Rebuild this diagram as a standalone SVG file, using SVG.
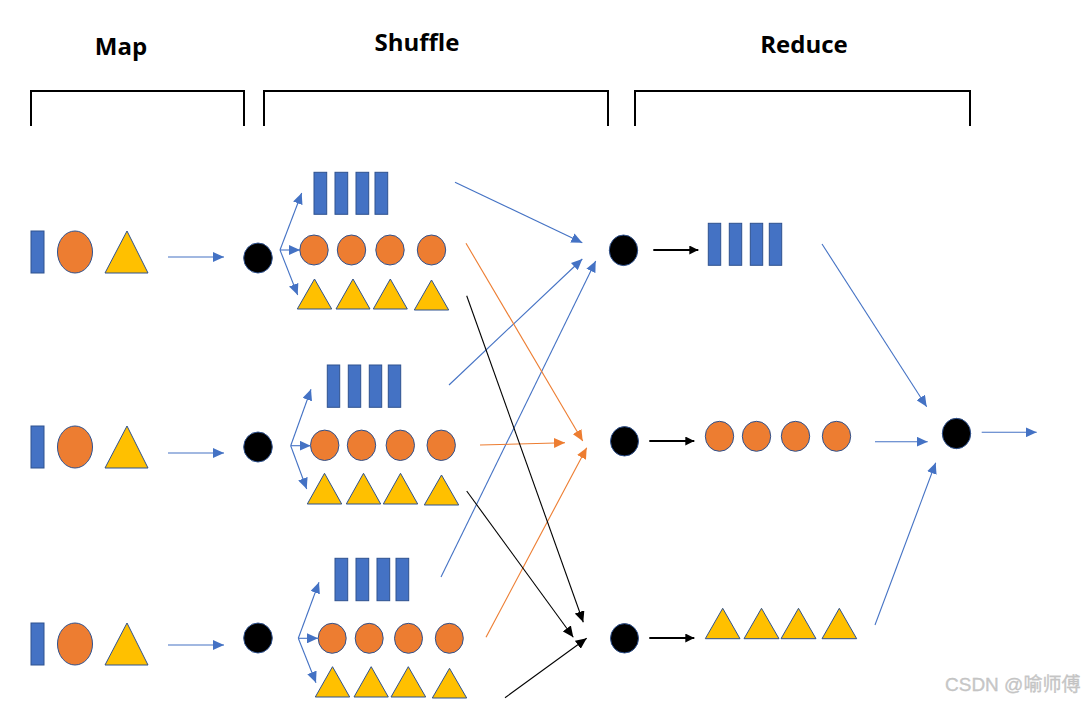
<svg xmlns="http://www.w3.org/2000/svg" width="1087" height="701" viewBox="0 0 1087 701">
<defs>
<style>
.hdr{font-family:"Open Sans","Liberation Sans",Arial,sans-serif;font-weight:bold;font-size:24px;fill:#000;text-anchor:middle}
.br{fill:none;stroke:#000;stroke-width:2}
.bl{fill:#4472C4;stroke:#2F528F;stroke-width:1}
.or{fill:#ED7D31;stroke:#2F528F;stroke-width:1}
.ye{fill:#FFC000;stroke:#2F528F;stroke-width:1}
.dot{fill:#000;stroke:#2F528F;stroke-width:1}
.lb{fill:none;stroke:#4472C4;stroke-width:1.1;marker-end:url(#mb)}
.lo{fill:none;stroke:#ED7D31;stroke-width:1.1;marker-end:url(#mo)}
.lk{fill:none;stroke:#000;stroke-width:1.1;marker-end:url(#mk)}
.lk2{fill:none;stroke:#000;stroke-width:2.2;marker-end:url(#mk2)}
.wm{font-family:"Liberation Sans","Noto Sans CJK SC",sans-serif;font-size:19px;fill:#c8c8c8;stroke:#bcbcbc;stroke-width:0.3}
</style>
<marker id="mb" markerUnits="userSpaceOnUse" markerWidth="12" markerHeight="10" refX="11" refY="5" orient="auto"><path d="M0,0 L11,5 L0,10 z" fill="#4472C4"/></marker>
<marker id="mo" markerUnits="userSpaceOnUse" markerWidth="12" markerHeight="10" refX="11" refY="5" orient="auto"><path d="M0,0 L11,5 L0,10 z" fill="#ED7D31"/></marker>
<marker id="mk" markerUnits="userSpaceOnUse" markerWidth="12" markerHeight="10" refX="11" refY="5" orient="auto"><path d="M0,0 L11,5 L0,10 z" fill="#000"/></marker>
<marker id="mk2" markerUnits="userSpaceOnUse" markerWidth="10" markerHeight="10" refX="9" refY="4.5" orient="auto"><path d="M0,0 L9,4.5 L0,9 z" fill="#000"/></marker>
</defs>
<rect width="1087" height="701" fill="#fff"/>

<g id="headers">
<text class="hdr" x="121" y="55">Map</text>
<text class="hdr" x="417" y="51">Shuffle</text>
<text class="hdr" x="804" y="53">Reduce</text>
<polyline class="br" points="31,126 31,91 244,91 244,126"/>
<polyline class="br" points="264,126 264,91 608,91 608,126"/>
<polyline class="br" points="635,126 635,91 970,91 970,126"/>
</g>

<g id="map1">
<rect class="bl" x="31" y="231" width="13" height="42"/>
<ellipse class="or" cx="75" cy="252" rx="17.5" ry="21"/>
<polygon class="ye" points="105,273 127,231 148,273"/>
</g>
<g id="map2">
<rect class="bl" x="31" y="426" width="13" height="42"/>
<ellipse class="or" cx="75" cy="447" rx="17.5" ry="21"/>
<polygon class="ye" points="105,468 127,426 148,468"/>
</g>
<g id="map3">
<rect class="bl" x="31" y="623" width="13" height="42"/>
<ellipse class="or" cx="75" cy="644" rx="17.5" ry="21"/>
<polygon class="ye" points="105,665 127,623 148,665"/>
</g>

<g id="node1"><ellipse class="dot" cx="258" cy="258" rx="14.3" ry="15"/></g>
<g id="node2"><ellipse class="dot" cx="258" cy="447" rx="14.3" ry="15"/></g>
<g id="node3"><ellipse class="dot" cx="258" cy="638" rx="14.3" ry="15"/></g>

<g id="shuffle1">
<rect class="bl" x="314" y="172.3" width="12.7" height="42"/>
<rect class="bl" x="335" y="172.3" width="12.7" height="42"/>
<rect class="bl" x="356" y="172.3" width="12.7" height="42"/>
<rect class="bl" x="375" y="172.3" width="12.7" height="42"/>
<ellipse class="or" cx="314" cy="250" rx="14.2" ry="15"/>
<ellipse class="or" cx="351.5" cy="250" rx="14.2" ry="15"/>
<ellipse class="or" cx="390" cy="250" rx="14.2" ry="15"/>
<ellipse class="or" cx="431.5" cy="250" rx="14.2" ry="15"/>
<polygon class="ye" points="297.3,309 314.5,279 331.7,309"/>
<polygon class="ye" points="336,309 353,279 370,309"/>
<polygon class="ye" points="373.3,309 390.3,279 407.3,309"/>
<polygon class="ye" points="414.3,310 431.5,280 448.7,310"/>
</g>
<g id="shuffle2">
<rect class="bl" x="327.3" y="365" width="12.4" height="42.3"/>
<rect class="bl" x="348.3" y="365" width="12.4" height="42.3"/>
<rect class="bl" x="369.3" y="365" width="12.4" height="42.3"/>
<rect class="bl" x="388.3" y="365" width="12.4" height="42.3"/>
<ellipse class="or" cx="324.7" cy="445.3" rx="14.2" ry="15.2"/>
<ellipse class="or" cx="361.5" cy="445.3" rx="14.2" ry="15.2"/>
<ellipse class="or" cx="400.3" cy="445.3" rx="14.2" ry="15.2"/>
<ellipse class="or" cx="441.2" cy="445.3" rx="14.2" ry="15.2"/>
<polygon class="ye" points="307.3,504 324.5,473.3 341.7,504"/>
<polygon class="ye" points="346.3,504 363.5,473.3 380.7,504"/>
<polygon class="ye" points="383.3,504 400.5,473.3 417.7,504"/>
<polygon class="ye" points="424.3,505 441.5,475 458.7,505"/>
</g>
<g id="shuffle3">
<rect class="bl" x="335" y="558.3" width="12.7" height="42.4"/>
<rect class="bl" x="356" y="558.3" width="12.7" height="42.4"/>
<rect class="bl" x="377" y="558.3" width="12.7" height="42.4"/>
<rect class="bl" x="396" y="558.3" width="12.7" height="42.4"/>
<ellipse class="or" cx="332.2" cy="638.3" rx="14" ry="15"/>
<ellipse class="or" cx="369.2" cy="638.3" rx="14" ry="15"/>
<ellipse class="or" cx="408.5" cy="638.3" rx="14" ry="15"/>
<ellipse class="or" cx="449.3" cy="638.3" rx="14" ry="15"/>
<polygon class="ye" points="315.3,697 332.5,666.7 349.7,697"/>
<polygon class="ye" points="354,697 371.2,666.7 388.3,697"/>
<polygon class="ye" points="391,697 408.3,666.7 425.7,697"/>
<polygon class="ye" points="432.3,698 449.5,668.3 466.7,698"/>
</g>

<g id="rnode1"><ellipse class="dot" cx="623.5" cy="250.3" rx="14.2" ry="15.3"/></g>
<g id="rnode2"><ellipse class="dot" cx="624.5" cy="441.3" rx="14" ry="14.7"/></g>
<g id="rnode3"><ellipse class="dot" cx="624.5" cy="638.3" rx="14" ry="14.7"/></g>

<g id="reduce1">
<rect class="bl" x="708.3" y="223.3" width="12.4" height="42"/>
<rect class="bl" x="729.3" y="223.3" width="12.4" height="42"/>
<rect class="bl" x="750.3" y="223.3" width="12.4" height="42"/>
<rect class="bl" x="769.3" y="223.3" width="12.4" height="42"/>
</g>
<g id="reduce2">
<ellipse class="or" cx="719.5" cy="436.3" rx="14.2" ry="15"/>
<ellipse class="or" cx="756.5" cy="436.3" rx="14.2" ry="15"/>
<ellipse class="or" cx="795.5" cy="436.3" rx="14.2" ry="15"/>
<ellipse class="or" cx="836.5" cy="436.3" rx="14.2" ry="15"/>
</g>
<g id="reduce3">
<polygon class="ye" points="705.3,638.7 722.7,608.3 740,638.7"/>
<polygon class="ye" points="744,638.7 761.5,608.3 779,638.7"/>
<polygon class="ye" points="781,638.7 798.5,608.3 816,638.7"/>
<polygon class="ye" points="822,638.7 839.3,608.3 856.7,638.7"/>
</g>

<g id="final"><ellipse class="dot" cx="956.5" cy="433.5" rx="14.2" ry="15.2"/></g>

<g id="connectors">
<line class="lb" x1="168" y1="257" x2="224" y2="257"/>
<line class="lb" x1="168" y1="453" x2="224" y2="453"/>
<line class="lb" x1="168" y1="645" x2="224" y2="645"/>

<line class="lb" x1="280" y1="250" x2="301.7" y2="193"/>
<line class="lb" x1="280" y1="250" x2="300" y2="250"/>
<line class="lb" x1="280" y1="250" x2="297.7" y2="295"/>
<line class="lb" x1="290.7" y1="445.7" x2="311" y2="389.3"/>
<line class="lb" x1="290.7" y1="445.7" x2="310.7" y2="445.7"/>
<line class="lb" x1="290.7" y1="445.7" x2="306.7" y2="489"/>
<line class="lb" x1="298.3" y1="638.3" x2="319" y2="582.3"/>
<line class="lb" x1="298.3" y1="638.3" x2="318" y2="638.3"/>
<line class="lb" x1="298.3" y1="638.3" x2="316" y2="682.7"/>

<line class="lb" x1="455" y1="182.3" x2="582.3" y2="242.7"/>
<line class="lb" x1="449" y1="385" x2="582.3" y2="259"/>
<line class="lb" x1="441" y1="577" x2="595.7" y2="261"/>

<line class="lo" x1="466" y1="243.3" x2="582.7" y2="441"/>
<line class="lo" x1="480" y1="445" x2="565" y2="442.7"/>
<line class="lo" x1="486" y1="637.3" x2="586.7" y2="447.7"/>

<line class="lk" x1="466.7" y1="295.7" x2="583.3" y2="622.3"/>
<line class="lk" x1="466.7" y1="491" x2="573.3" y2="637.3"/>
<line class="lk" x1="505" y1="697.7" x2="586.7" y2="638.3"/>

<line class="lk2" x1="653.3" y1="250" x2="698.3" y2="250"/>
<line class="lk2" x1="649.3" y1="441" x2="694.3" y2="441"/>
<line class="lk2" x1="649.3" y1="638" x2="694.3" y2="638"/>

<line class="lb" x1="822" y1="244" x2="926.7" y2="406.7"/>
<line class="lb" x1="875" y1="441.7" x2="927.7" y2="441.7"/>
<line class="lb" x1="875" y1="625" x2="935.7" y2="462.7"/>
<line class="lb" x1="981.7" y1="432.3" x2="1036.7" y2="432.3"/>
</g>

<text class="wm" x="945" y="691">CSDN @喻师傅</text>
</svg>
